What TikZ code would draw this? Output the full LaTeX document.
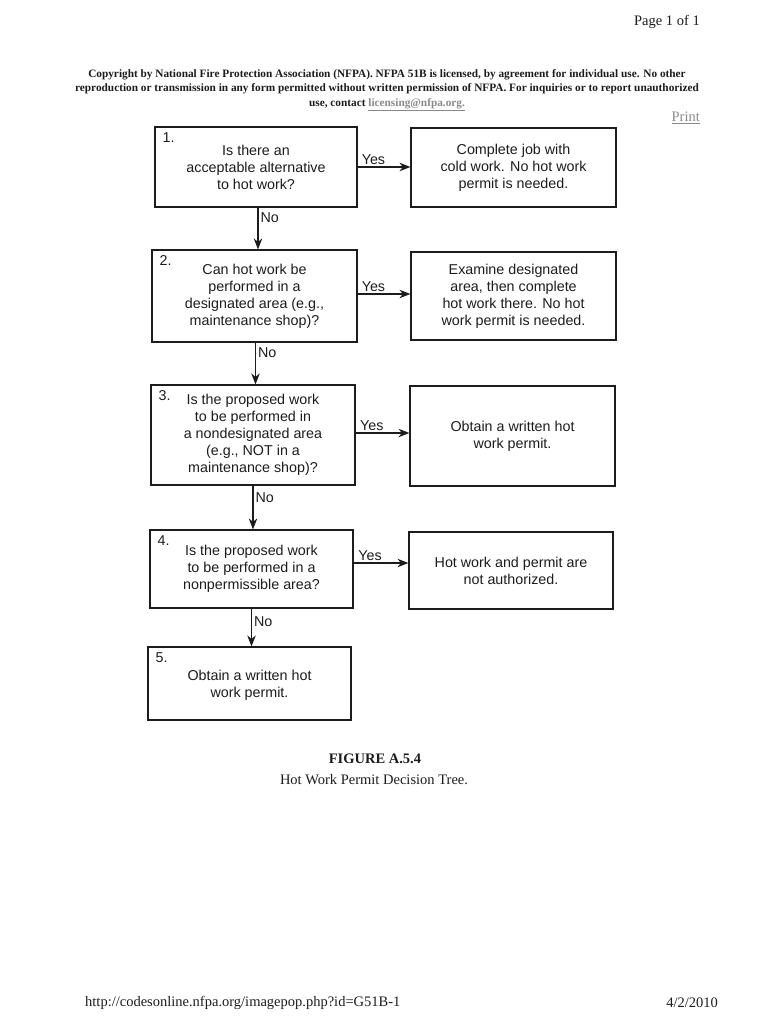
\documentclass[tikz,border=0pt]{standalone}
\usepackage{fontspec}
\setmainfont{Liberation Serif}
\newfontfamily\chartfont{Liberation Sans}
\usetikzlibrary{arrows.meta}
\definecolor{ink}{HTML}{1C1C1C}
\definecolor{linkgray}{HTML}{8A8A8A}
\tikzset{
  box/.style={draw=ink, line width=1.2pt, inner sep=0pt, align=center, text=ink,
    font=\chartfont\fontsize{14.3}{17}\selectfont},
  num/.style={anchor=north west, inner sep=0pt, text=ink, font=\chartfont\fontsize{14.3}{17}\selectfont},
  flow/.style={draw=ink, line width=1.1pt, -{Stealth[length=11pt,width=8.5pt]}},
  lbl/.style={inner sep=2pt, text=ink, font=\chartfont\fontsize{14.3}{17}\selectfont},
  page/.style={inner sep=0pt, text=ink, font=\fontsize{14.5}{17}\selectfont},
  notice/.style={inner sep=0pt, align=center, text=ink, font=\bfseries\fontsize{11.3}{14.5}\selectfont}
}

\begin{document}
\begin{tikzpicture}[x=1pt, y=-1pt]
  \useasboundingbox (0,0) rectangle (768,1024);

  % page header
  \node[page, anchor=east] (pagenum) at (700,22) {Page 1 of 1};
  \node[notice] (notice) at (387,90) {Copyright by National Fire Protection Association (NFPA). NFPA 51B is licensed, by agreement for individual use. No other\\
    reproduction or transmission in any form permitted without written permission of NFPA. For inquiries or to report unauthorized\\
    use, contact \textcolor{linkgray}{\underline{licensing@nfpa.org.}}};
  \node[page, anchor=east, text=linkgray] (print) at (700,118) {\underline{Print}};

  % questions
  \node[box, minimum width=202pt, minimum height=80pt] (q1) at (256,167) {Is there an\\ acceptable alternative\\ to hot work?};
  \node[box, minimum width=205pt, minimum height=92pt] (q2) at (254.5,296) {Can hot work be\\ performed in a\\ designated area (e.g.,\\ maintenance shop)?};
  \node[box, minimum width=204pt, minimum height=100pt] (q3) at (253,435) {Is the proposed work\\ to be performed in\\ a nondesignated area\\ (e.g., NOT in a\\ maintenance shop)?};
  \node[box, minimum width=203pt, minimum height=78pt] (q4) at (251.5,569) {Is the proposed work\\ to be performed in a\\ nonpermissible area?};
  \node[box, minimum width=203pt, minimum height=73pt] (q5) at (249.5,683.5) {\\[-4pt] Obtain a written hot\\ work permit.};

  % step numbers
  \node[num] (n1) at ([shift={(8,6)}]q1.north west) {1.};
  \node[num] (n2) at ([shift={(8,6)}]q2.north west) {2.};
  \node[num] (n3) at ([shift={(8,6)}]q3.north west) {3.};
  \node[num] (n4) at ([shift={(8,6)}]q4.north west) {4.};
  \node[num] (n5) at ([shift={(8,6)}]q5.north west) {5.};

  % outcomes
  \node[box, minimum width=205pt, minimum height=79pt] (a1) at (513.5,167.5) {Complete job with\\ cold work. No hot work\\ permit is needed.};
  \node[box, minimum width=205pt, minimum height=88pt] (a2) at (513.5,296) {Examine designated\\ area, then complete\\ hot work there. No hot\\ work permit is needed.};
  \node[box, minimum width=205pt, minimum height=100pt] (a3) at (512.5,436) {Obtain a written hot\\ work permit.};
  \node[box, minimum width=204pt, minimum height=77pt] (a4) at (511,570.5) {Hot work and permit are\\ not authorized.};

  % yes branches
  \draw[flow] (q1.east) -- node[lbl, above, pos=0.3] {Yes} (q1.east -| a1.west);
  \draw[flow] ([yshift=2pt]q2.east) -- node[lbl, above, pos=0.3] {Yes} ([yshift=2pt]q2.east -| a2.west);
  \draw[flow] ([yshift=2pt]q3.east) -- node[lbl, above, pos=0.3] {Yes} ([yshift=2pt]q3.east -| a3.west);
  \draw[flow] ([yshift=6pt]q4.east) -- node[lbl, above, pos=0.3] {Yes} ([yshift=6pt]q4.east -| a4.west);

  % no branches
  \draw[flow] ([xshift=2pt]q1.south) -- node[lbl, right, pos=0.25] {No} ([xshift=2pt]q1.south |- q2.north);
  \draw[flow] ([xshift=1pt]q2.south) -- node[lbl, right, pos=0.25] {No} ([xshift=1pt]q2.south |- q3.north);
  \draw[flow] (q3.south) -- node[lbl, right, pos=0.28] {No} (q3.south |- q4.north);
  \draw[flow] (q4.south) -- node[lbl, right, pos=0.35] {No} (q4.south |- q5.north);

  % caption
  \node[page, font=\bfseries\fontsize{14.5}{17}\selectfont] (figno) at (375,759) {FIGURE A.5.4};
  \node[page] (figtitle) at (374,780) {Hot Work Permit Decision Tree.};

  % page footer
  \node[page, anchor=west] (url) at (85,1003) {http://codesonline.nfpa.org/imagepop.php?id=G51B-1};
  \node[page, anchor=east] (date) at (718,1003) {4/2/2010};
\end{tikzpicture}
\end{document}
